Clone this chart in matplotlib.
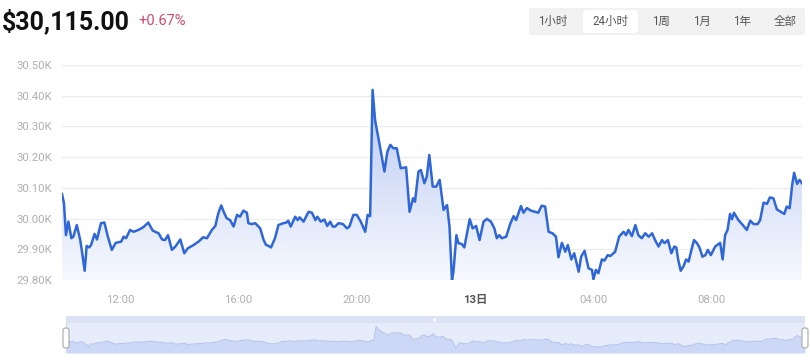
import matplotlib
matplotlib.use("Agg")
import matplotlib.pyplot as plt
import numpy as np
from matplotlib.patches import FancyBboxPatch, Rectangle
from matplotlib.colors import LinearSegmentedColormap

plt.rcParams['font.family'] = ['Roboto', 'Noto Sans CJK SC', 'DejaVu Sans']

# BTC price, 24h view (times HH:MM, crossing midnight into the 13th)
times = ["10:02", "10:06", "10:10", "10:15", "10:21", "10:25", "10:32", "10:39", "10:42", "10:48",
         "10:52", "10:57", "11:01", "11:08", "11:13", "11:21", "11:28", "11:35", "11:43", "11:51",
         "12:02", "12:07", "12:12", "12:20", "12:27", "12:37", "12:47", "12:57", "13:06", "13:11",
         "13:18", "13:25", "13:31", "13:37", "13:45", "13:52", "14:02", "14:10", "14:17", "14:29",
         "14:39", "14:48", "14:56", "15:06", "15:13", "15:19", "15:25", "15:30", "15:36", "15:43",
         "15:50", "15:57", "16:03", "16:10", "16:17", "16:20", "16:27", "16:34", "16:44", "16:51",
         "16:56", "17:01", "17:06", "17:14", "17:21", "17:31", "17:37", "17:41", "17:46", "17:55",
         "18:00", "18:04", "18:12", "18:22", "18:29", "18:36", "18:40", "18:47", "18:54", "19:00",
         "19:06", "19:11", "19:16", "19:23", "19:32", "19:40", "19:45", "19:53", "20:00", "20:08",
         "20:17", "20:22", "20:27", "20:32", "20:37", "20:47", "20:56", "21:02", "21:08", "21:14",
         "21:21", "21:29", "21:40", "21:47", "21:54", "21:58", "22:05", "22:10", "22:17", "22:22",
         "22:27", "22:34", "22:41", "22:48", "22:56", "23:03", "23:08", "23:13", "23:16", "23:22",
         "23:26", "23:33", "23:38", "23:49", "23:55", "00:02", "00:09", "00:17", "00:24", "00:32",
         "00:39", "00:44", "00:49", "00:54", "01:03", "01:11", "01:18", "01:23", "01:33", "01:38",
         "01:45", "01:53", "02:02", "02:08", "02:15", "02:22", "02:29", "02:37", "02:44", "02:49",
         "02:56", "03:03", "03:08", "03:15", "03:21", "03:30", "03:35", "03:42", "03:50", "03:57",
         "04:00", "04:05", "04:10", "04:17", "04:22", "04:29", "04:34", "04:44", "04:52", "05:01",
         "05:06", "05:11", "05:18", "05:25", "05:31", "05:38", "05:45", "05:52", "05:59", "06:05",
         "06:12", "06:19", "06:24", "06:31", "06:38", "06:44", "06:48", "06:52", "06:57", "07:03",
         "07:08", "07:13", "07:20", "07:24", "07:30", "07:35", "07:41", "07:47", "07:52", "07:58",
         "08:07", "08:17", "08:22", "08:27", "08:32", "08:37", "08:41", "08:45", "08:54", "09:03",
         "09:11", "09:18", "09:25", "09:33", "09:38", "09:45", "09:52", "09:58", "10:05", "10:12",
         "10:20", "10:27", "10:32", "10:38", "10:43", "10:47", "10:53", "10:58", "11:03"]
prices = [30080, 30050, 29946, 29990, 29936, 29941, 29979, 29930, 29898, 29830,
          29911, 29906, 29914, 29950, 29932, 29985, 29987, 29941, 29898, 29921,
          29925, 29941, 29936, 29963, 29957, 29963, 29972, 29987, 29961, 29957,
          29952, 29932, 29930, 29946, 29898, 29909, 29932, 29887, 29903, 29914,
          29925, 29939, 29936, 29963, 29976, 30017, 30043, 30022, 30001, 29995,
          29974, 30012, 30006, 30026, 30019, 29985, 29982, 29985, 29968, 29930,
          29914, 29911, 29906, 29936, 29979, 29985, 29987, 29993, 29974, 30006,
          29995, 30004, 29990, 30022, 30019, 29995, 30006, 29990, 29997, 29976,
          29990, 29974, 29974, 29985, 29982, 29968, 29974, 30012, 30012, 29990,
          29957, 30012, 30008, 30419, 30321, 30234, 30153, 30218, 30240, 30229,
          30229, 30164, 30167, 30022, 30066, 30055, 30153, 30158, 30115, 30137,
          30207, 30104, 30104, 30126, 30028, 30044, 29974, 29800, 29827, 29946,
          29920, 29917, 29906, 29998, 29968, 29976, 29930, 29990, 29999, 29990,
          29968, 29936, 29946, 29936, 29941, 29982, 30008, 29995, 30041, 30019,
          30034, 30026, 30022, 30019, 30042, 30039, 29957, 29952, 29941, 29874,
          29921, 29892, 29914, 29867, 29887, 29827, 29876, 29895, 29838, 29833,
          29802, 29833, 29822, 29867, 29863, 29881, 29878, 29892, 29941, 29957,
          29946, 29963, 29943, 29979, 29946, 29936, 29952, 29941, 29952, 29930,
          29909, 29930, 29920, 29930, 29887, 29909, 29906, 29865, 29830, 29846,
          29867, 29860, 29906, 29930, 29920, 29906, 29876, 29881, 29898, 29881,
          29909, 29921, 29867, 29946, 29963, 30015, 29998, 30019, 29995, 29979,
          29963, 29993, 29982, 29982, 29995, 30052, 30048, 30069, 30066, 30030,
          30022, 30015, 30039, 30034, 30109, 30149, 30113, 30126, 30115]

ytick_vals = [29800, 29900, 30000, 30100, 30200, 30300, 30400, 30500]
xtick_hours = [12, 16, 20, 24, 28, 32]
xtick_labels = ["12:00", "16:00", "20:00", "13日", "04:00", "08:00"]
ranges = ["1小时", "24小时", "1周", "1月", "1年", "全部"]
price_text = "$30,115.00"
change_text = "+0.67%"

# hours on a running clock (add 24 after midnight)
t = []
day = 0
prev = -1
for s in times:
    h, m = s.split(":")
    v = int(h) + int(m) / 60
    if v < prev - 12:
        day += 24
    prev = v
    t.append(v + day)
t = np.array(t)
p = np.array(prices)

W, H = 810, 360
fig = plt.figure(figsize=(W / 100, H / 100), dpi=100)
fig.patch.set_facecolor("white")

LINE = "#2f66d8"

# main chart
ax = fig.add_axes([62 / W, 80 / H, 740 / W, 215 / H])
ax.set_xlim(t[0], t[-1])
ax.set_ylim(29800, 30500)
for sp in ax.spines.values():
    sp.set_visible(False)
for v in ytick_vals:
    ax.axhline(v, color="#e0e0e0" if v == 29800 else "#ececec", lw=0.9, zorder=0)

cmap = LinearSegmentedColormap.from_list("fill", ["#f7f9fe", "#b3c5f1"])
grad = np.linspace(0, 1, 256).reshape(-1, 1)
img = ax.imshow(grad, extent=[t[0], t[-1], 29800, 30460], origin="lower",
                aspect="auto", cmap=cmap, zorder=1)
poly = ax.fill_between(t, p, 29800, color="none", lw=0)
img.set_clip_path(poly.get_paths()[0], transform=ax.transData)
ax.plot(t, p, color=LINE, lw=1.8, solid_joinstyle="round", zorder=3)

ax.set_yticks(ytick_vals)
ax.set_yticklabels([f"{v / 1000:.2f}K" for v in ytick_vals])
ax.set_xticks(xtick_hours)
ax.set_xticklabels(xtick_labels)
ax.tick_params(axis="both", length=0, labelsize=8.2, colors="#b0b0b0")
ax.tick_params(axis="y", pad=7)
ax.tick_params(axis="x", pad=11)
for lbl in ax.get_xticklabels():
    if lbl.get_text() == "13日":
        lbl.set_color("#555555")
        lbl.set_fontweight("bold")

# header
fig.text(2 / W, 1 - 21 / H, price_text, fontsize=18, fontweight="bold",
         color="#111111", va="center", ha="left")
fig.text(138 / W, 1 - 21 / H, change_text, fontsize=10.5, color="#d04a6e",
         va="center", ha="left")

# range buttons (pixel space)
bar = fig.add_axes([0, 0, 1, 1], zorder=-1)
bar.set_xlim(0, W)
bar.set_ylim(H, 0)
bar.axis("off")
bar.add_patch(FancyBboxPatch((529, 8), 276, 27, boxstyle="round,pad=0,rounding_size=3",
                             fc="#f1f1f1", ec="none"))
bar.add_patch(FancyBboxPatch((583, 10), 55, 23, boxstyle="round,pad=0,rounding_size=3",
                             fc="white", ec="none"))
btn_x = [553, 610, 661, 702, 742, 785]
for x, s in zip(btn_x, ranges):
    bar.text(x, 21.5, s, fontsize=8.3, color="#555555", ha="center", va="center")

# navigator
nav = fig.add_axes([66 / W, 7 / H, 739 / W, 37 / H])
nav.set_xlim(t[0], t[-1])
nav.set_ylim(29645, 30720)
nav.axis("off")
nav.add_patch(Rectangle((t[0], 29645), t[-1] - t[0], 1075, fc="#e6ecfa", ec="#d3dcf2", lw=0.8, zorder=0))
nav.add_patch(Rectangle((t[0], 30520), t[-1] - t[0], 200, fc="#dae2f4", ec="none", zorder=1))
nav.fill_between(t, p, 29645, color="#ccd8f6", lw=0, zorder=2)
nav.plot(t, p, color="#b6c5ef", lw=0.8, zorder=3)

# navigator handles on top (pixel space)
top = fig.add_axes([0, 0, 1, 1], zorder=10)
top.set_xlim(0, W)
top.set_ylim(H, 0)
top.axis("off")
for x in (66, 805):
    top.add_patch(FancyBboxPatch((x - 3, 328), 6, 20, boxstyle="round,pad=0,rounding_size=2.5",
                                 fc="white", ec="#a8a8a8", lw=0.8))
top.add_patch(Rectangle((433, 318), 3, 4, fc="#f4f6fc", ec="none"))

fig.savefig("out.png", dpi=100, facecolor="white")
